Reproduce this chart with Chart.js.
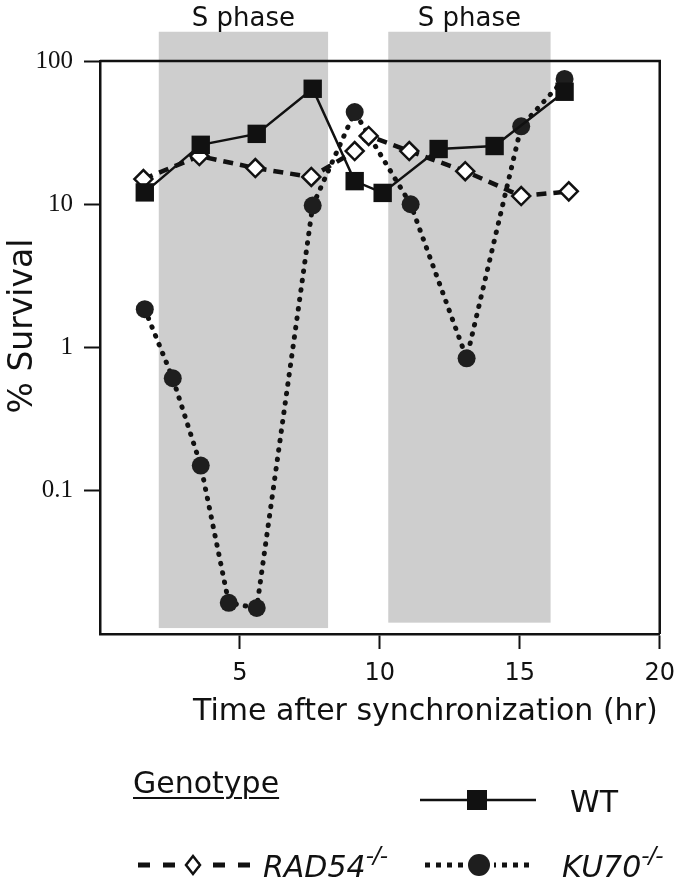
<!DOCTYPE html>
<html>
<head>
<meta charset="utf-8">
<script src="https://cdn.jsdelivr.net/npm/chart.js@4/dist/chart.umd.min.js"></script>
<style>
  html, body { margin: 0; padding: 0; background: #fff; }
  #wrap { position: relative; width: 685px; height: 880px; }
  #chart { position: absolute; left: 0; top: 0; }
  .lg {
    position: absolute;
    font-family: 'DejaVu Sans', sans-serif;
    font-size: 30px;
    line-height: 30px;
    color: #111;
    white-space: nowrap;
  }
  .lg sup {
    font-size: 23px;
    vertical-align: baseline;
    position: relative;
    top: -14px;
    letter-spacing: -1px;
  }
  #genotype {
    text-decoration: underline;
    text-decoration-thickness: 2px;
    text-underline-offset: 4px;
  }
</style>
</head>
<body>
<div id="wrap">
  <canvas id="chart" width="685" height="880"></canvas>
  <div class="lg" id="genotype" style="left:133px; top:768px;">Genotype</div>
  <div class="lg" style="left:570px; top:787px;">WT</div>
  <div class="lg" style="left:263px; top:852px;"><i>RAD54</i><sup><i>-/-</i></sup></div>
  <div class="lg" style="left:562px; top:852px;"><i>KU70</i><sup><i>-/-</i></sup></div>
</div>
<script>
// survival after irradiation at each time point (hr after synchronization)
const wtTime = [1.6, 3.6, 5.6, 7.6, 9.1, 10.1, 12.1, 14.1, 16.6];
const wtSurvival = [12.1, 26, 31, 64, 14.5, 12, 24.3, 25.5, 61];

const rad54Time = [1.55, 3.55, 5.55, 7.55, 9.1, 9.6, 11.05, 13.05, 15.05, 16.75];
const rad54Survival = [15, 21.7, 17.9, 15.5, 23.5, 30, 23.5, 17, 11.4, 12.3];

const ku70Time = [1.6, 2.6, 3.6, 4.6, 5.6, 7.6, 9.1, 11.1, 13.1, 15.05, 16.6];
const ku70Survival = [1.85, 0.61, 0.15, 0.0165, 0.0152, 9.8, 44, 10, 0.84, 35, 75];

// S phase windows (hr) and shaded extent (% survival units)
const sPhaseStart = [2.1, 10.3];
const sPhaseEnd = [8.15, 16.1];
const sPhaseLow = [0.011, 0.012];
const sPhaseHigh = [160, 160];
const sPhaseLabels = ['S phase', 'S phase'];

// axes
const xTickValues = [5, 10, 15, 20];
const yTickValues = [0.1, 1, 10, 100];
const yTickLabels = ['0.1', '1', '10', '100'];

const INK = '#111';

function toPoints(xs, ys) {
    return xs.map((x, i) => ({ x: x, y: ys[i] }));
}

/**
 * Shaded S phase bands, frame, titles and legend samples
 */
const decorPlugin = {
    id: 'decor',
    beforeDraw(chart) {
        const { ctx } = chart;
        const x = chart.scales.x;
        const y = chart.scales.y;
        ctx.save();
        for (let i = 0; i < sPhaseStart.length; i++) {
            const left = x.getPixelForValue(sPhaseStart[i]);
            const right = x.getPixelForValue(sPhaseEnd[i]);
            const top = y.getPixelForValue(sPhaseHigh[i]);
            const bottom = y.getPixelForValue(sPhaseLow[i]);
            ctx.fillStyle = '#cecece';
            ctx.fillRect(left, top, right - left, bottom - top);

            ctx.fillStyle = INK;
            ctx.font = '26px "DejaVu Sans"';
            ctx.textAlign = 'center';
            ctx.textBaseline = 'alphabetic';
            ctx.fillText(sPhaseLabels[i], (left + right) / 2, 26);
        }
        ctx.restore();
    },
    afterDraw(chart) {
        const { ctx, chartArea } = chart;
        ctx.save();

        // top and right sides of the frame
        ctx.strokeStyle = INK;
        ctx.lineWidth = 2.5;
        ctx.beginPath();
        ctx.moveTo(chartArea.left, chartArea.top);
        ctx.lineTo(chartArea.right, chartArea.top);
        ctx.lineTo(chartArea.right, chartArea.bottom);
        ctx.stroke();

        // axis titles
        ctx.fillStyle = INK;
        ctx.font = '30px "DejaVu Sans"';
        ctx.textAlign = 'left';
        ctx.textBaseline = 'alphabetic';
        ctx.fillText('Time after synchronization (hr)', 193, 720);

        ctx.save();
        ctx.translate(32, 326);
        ctx.rotate(-Math.PI / 2);
        ctx.font = '33px "DejaVu Sans"';
        ctx.textAlign = 'center';
        ctx.fillText('% Survival', 0, 0);
        ctx.restore();

        // legend samples
        // WT
        ctx.lineWidth = 2.5;
        ctx.setLineDash([]);
        ctx.beginPath();
        ctx.moveTo(420, 800);
        ctx.lineTo(536, 800);
        ctx.stroke();
        ctx.fillStyle = INK;
        ctx.fillRect(467, 790, 20, 20);

        // RAD54
        ctx.lineWidth = 5;
        ctx.setLineDash([12, 13]);
        ctx.beginPath();
        ctx.moveTo(138, 865);
        ctx.lineTo(253, 865);
        ctx.stroke();
        ctx.setLineDash([]);
        ctx.lineWidth = 2.5;
        ctx.fillStyle = '#fff';
        ctx.beginPath();
        ctx.moveTo(193, 856);
        ctx.lineTo(200, 865);
        ctx.lineTo(193, 874);
        ctx.lineTo(186, 865);
        ctx.closePath();
        ctx.fill();
        ctx.stroke();

        // KU70
        ctx.lineWidth = 5;
        ctx.setLineDash([5, 6]);
        ctx.beginPath();
        ctx.moveTo(425, 865);
        ctx.lineTo(533, 865);
        ctx.stroke();
        ctx.setLineDash([]);
        ctx.fillStyle = '#fff';
        ctx.fillRect(464, 858, 30, 14);
        ctx.fillStyle = '#1e1e1e';
        ctx.beginPath();
        ctx.arc(479, 865, 11, 0, Math.PI * 2);
        ctx.fill();

        ctx.restore();
    }
};

const ctx = document.getElementById('chart').getContext('2d');

new Chart(ctx, {
    type: 'line',
    data: {
        datasets: [
            {
                label: 'WT',
                data: toPoints(wtTime, wtSurvival),
                borderColor: INK,
                borderWidth: 2.5,
                pointStyle: 'rect',
                pointRadius: 13,
                pointBackgroundColor: INK,
                pointBorderColor: INK,
                pointBorderWidth: 0,
                tension: 0,
                clip: false
            },
            {
                label: 'RAD54-/-',
                data: toPoints(rad54Time, rad54Survival),
                borderColor: INK,
                borderWidth: 4.5,
                borderDash: [10, 7],
                pointStyle: 'rectRot',
                pointRadius: 9,
                pointBackgroundColor: '#fff',
                pointBorderColor: INK,
                pointBorderWidth: 2.5,
                tension: 0,
                clip: false
            },
            {
                label: 'KU70-/-',
                data: toPoints(ku70Time, ku70Survival),
                borderColor: INK,
                borderWidth: 5,
                borderDash: [0.5, 9],
                borderCapStyle: 'round',
                pointStyle: 'circle',
                pointRadius: 9,
                pointBackgroundColor: '#1e1e1e',
                pointBorderColor: '#1e1e1e',
                pointBorderWidth: 0,
                tension: 0,
                clip: false
            }
        ]
    },
    options: {
        responsive: false,
        animation: false,
        layout: {
            padding: { top: 61, right: 18, bottom: 171, left: 0 }
        },
        plugins: {
            legend: { display: false },
            tooltip: { enabled: false }
        },
        scales: {
            x: {
                type: 'linear',
                min: 0,
                max: 20,
                afterBuildTicks: function(scale) {
                    scale.ticks = xTickValues.map(v => ({ value: v }));
                },
                afterFit: function(scale) {
                    scale.height = 75;
                },
                border: { display: true, color: INK, width: 2.5 },
                grid: {
                    drawOnChartArea: false,
                    drawTicks: true,
                    tickLength: 15,
                    tickColor: INK,
                    tickWidth: 2
                },
                ticks: {
                    color: INK,
                    padding: 10,
                    maxRotation: 0,
                    font: { family: 'DejaVu Sans', size: 24 }
                }
            },
            y: {
                type: 'logarithmic',
                min: 0.01,
                max: 100,
                afterBuildTicks: function(scale) {
                    scale.ticks = yTickValues.map(v => ({ value: v }));
                },
                afterFit: function(scale) {
                    scale.width = 100;
                },
                border: { display: true, color: INK, width: 2.5 },
                grid: {
                    drawOnChartArea: false,
                    drawTicks: true,
                    tickLength: 16,
                    tickColor: INK,
                    tickWidth: 2
                },
                ticks: {
                    color: INK,
                    padding: 11,
                    font: { family: 'Liberation Serif', size: 25 },
                    callback: function(value) {
                        const i = yTickValues.indexOf(value);
                        return i >= 0 ? yTickLabels[i] : '';
                    }
                }
            }
        }
    },
    plugins: [decorPlugin]
});
</script>
</body>
</html>
